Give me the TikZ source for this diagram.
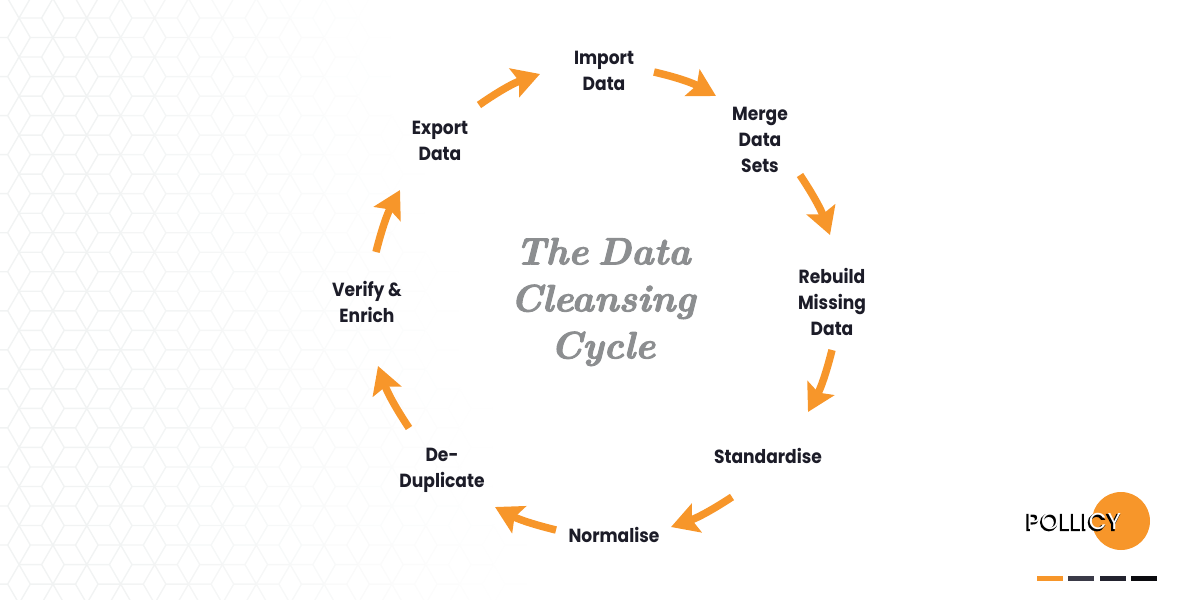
\documentclass[tikz,border=0pt]{standalone}
\usepackage{fontspec}
\setmainfont{Poppins}[FakeStretch=0.9]
\usepackage{xcolor}
\usetikzlibrary{arrows.meta}
\definecolor{cOrange}{RGB}{247,150,42}
\definecolor{cInk}{RGB}{28,28,40}
\definecolor{cTitle}{RGB}{140,142,144}
\definecolor{cPattern}{RGB}{241,243,243}
\definecolor{cBarA}{RGB}{58,58,72}
\definecolor{cBarB}{RGB}{34,34,46}
\definecolor{cBarC}{RGB}{11,11,15}
\newfontfamily\titlefont{lmroman10-bolditalic}[Extension=.otf, FakeBold=2.5, WordSpace=0.6]
\newfontfamily\logofont{Poppins}[LetterSpace=4.5]
\newfontfamily\logoheavyfont{Poppins}[LetterSpace=4.5, FakeBold=6]
\tikzset{
    cyclelabel/.style={align=center, inner sep=0pt, text=cInk, font=\fontsize{19}{26}\selectfont\bfseries},
    titlelabel/.style={align=center, inner sep=0pt, text=cTitle, font=\titlefont\fontsize{38}{47}\selectfont},
    logolabel/.style={inner sep=0pt, text=white, font=\logofont\fontsize{23}{24}\selectfont},
    logoshadow/.style={inner sep=0pt, text=black, font=\logoheavyfont\fontsize{23}{24}\selectfont},
    cyclearrow/.style={-{Stealth[length=27pt, width=30pt, inset=5pt]}, line width=7.5pt, draw=cOrange},
    patternline/.style={line width=1.4pt},
}

\begin{document}
\begin{tikzpicture}[x=1pt, y=-1pt]
    \useasboundingbox (0,0) rectangle (1200,600);
    % background tiles
    \foreach \col in {0,...,16} {
        \foreach \row in {-1,...,15} {
            \pgfmathsetmacro{\tx}{19+33.9*\col}
            \pgfmathsetmacro{\ty}{18+39.04*\row+mod(\col,2)*19.52}
            \pgfmathsetmacro{\fade}{max(0,min(100,125*(1-\tx/(380+0.25*\ty))))}
            \draw[patternline, draw=cPattern!\fade!white]
                (\tx,\ty) -- ++(11.3,19.52) -- ++(-11.3,19.52) -- ++(-11.3,-19.52) -- cycle
                (\tx+11.3,\ty+19.52) -- ++(22.6,0)
                (\tx-11.3,\ty+19.52) -- ++(-22.6,0);
        }
    }
    % cycle steps
    \node[cyclelabel] (importN) at (604,71) {Import\\Data};
    \node[cyclelabel] (mergeN) at (760,140) {Merge\\Data\\Sets};
    \node[cyclelabel] (rebuildN) at (832,302) {Rebuild\\Missing\\Data};
    \node[cyclelabel] (standardN) at (768,456) {Standardise};
    \node[cyclelabel] (normalN) at (614,535) {Normalise};
    \node[cyclelabel] (dedupN) at (442,470) {De-\\Duplicate};
    \node[cyclelabel] (verifyN) at (367,302) {Verify \&\\Enrich};
    \node[cyclelabel] (exportN) at (440,141) {Export\\Data};
    \node[titlelabel] (titleN) at (603,302) {The Data\\Cleansing\\Cycle};
    % arrows round the ring
    \draw[cyclearrow] ([shift={(50pt,-1pt)}]importN.center) to[bend left=8] ([shift={(112pt,-25pt)}]importN.center);
    \draw[cyclearrow] ([shift={(40pt,-35pt)}]mergeN.center) to[bend left=7] ([shift={(70pt,-95pt)}]mergeN.center);
    \draw[cyclearrow] ([shift={(0pt,-48pt)}]rebuildN.center) to[bend left=7] ([shift={(-24pt,-110pt)}]rebuildN.center);
    \draw[cyclearrow] ([shift={(-36pt,-41pt)}]standardN.center) to[bend left=7] ([shift={(-97pt,-71pt)}]standardN.center);
    \draw[cyclearrow] ([shift={(-58pt,5pt)}]normalN.center) to[bend left=7] ([shift={(-119pt,28pt)}]normalN.center);
    \draw[cyclearrow] ([shift={(-33pt,42pt)}]dedupN.center) to[bend left=7] ([shift={(-64pt,104pt)}]dedupN.center);
    \draw[cyclearrow] ([shift={(9pt,50pt)}]verifyN.center) to[bend left=7] ([shift={(33pt,112pt)}]verifyN.center);
    \draw[cyclearrow] ([shift={(39pt,36pt)}]exportN.center) to[bend left=8] ([shift={(100pt,67pt)}]exportN.center);
    % logo
    \node[circle, fill=cOrange, minimum size=58pt, inner sep=0pt] (logoN) at (1121,521) {};
    \node[logoshadow] (logoshadowN) at (1072.5,522.5) {POLLICY};
    \node[logolabel] (logotextN) at (1074,521) {POLLICY};
    \foreach \bx/\bc [count=\i] in {1037/cOrange,1068/cBarA,1100/cBarB,1131/cBarC} {
        \node[rectangle, fill=\bc, minimum width=26pt, minimum height=5pt, inner sep=0pt, anchor=west] (barN\i) at (\bx,578) {};
    }
\end{tikzpicture}
\end{document}
